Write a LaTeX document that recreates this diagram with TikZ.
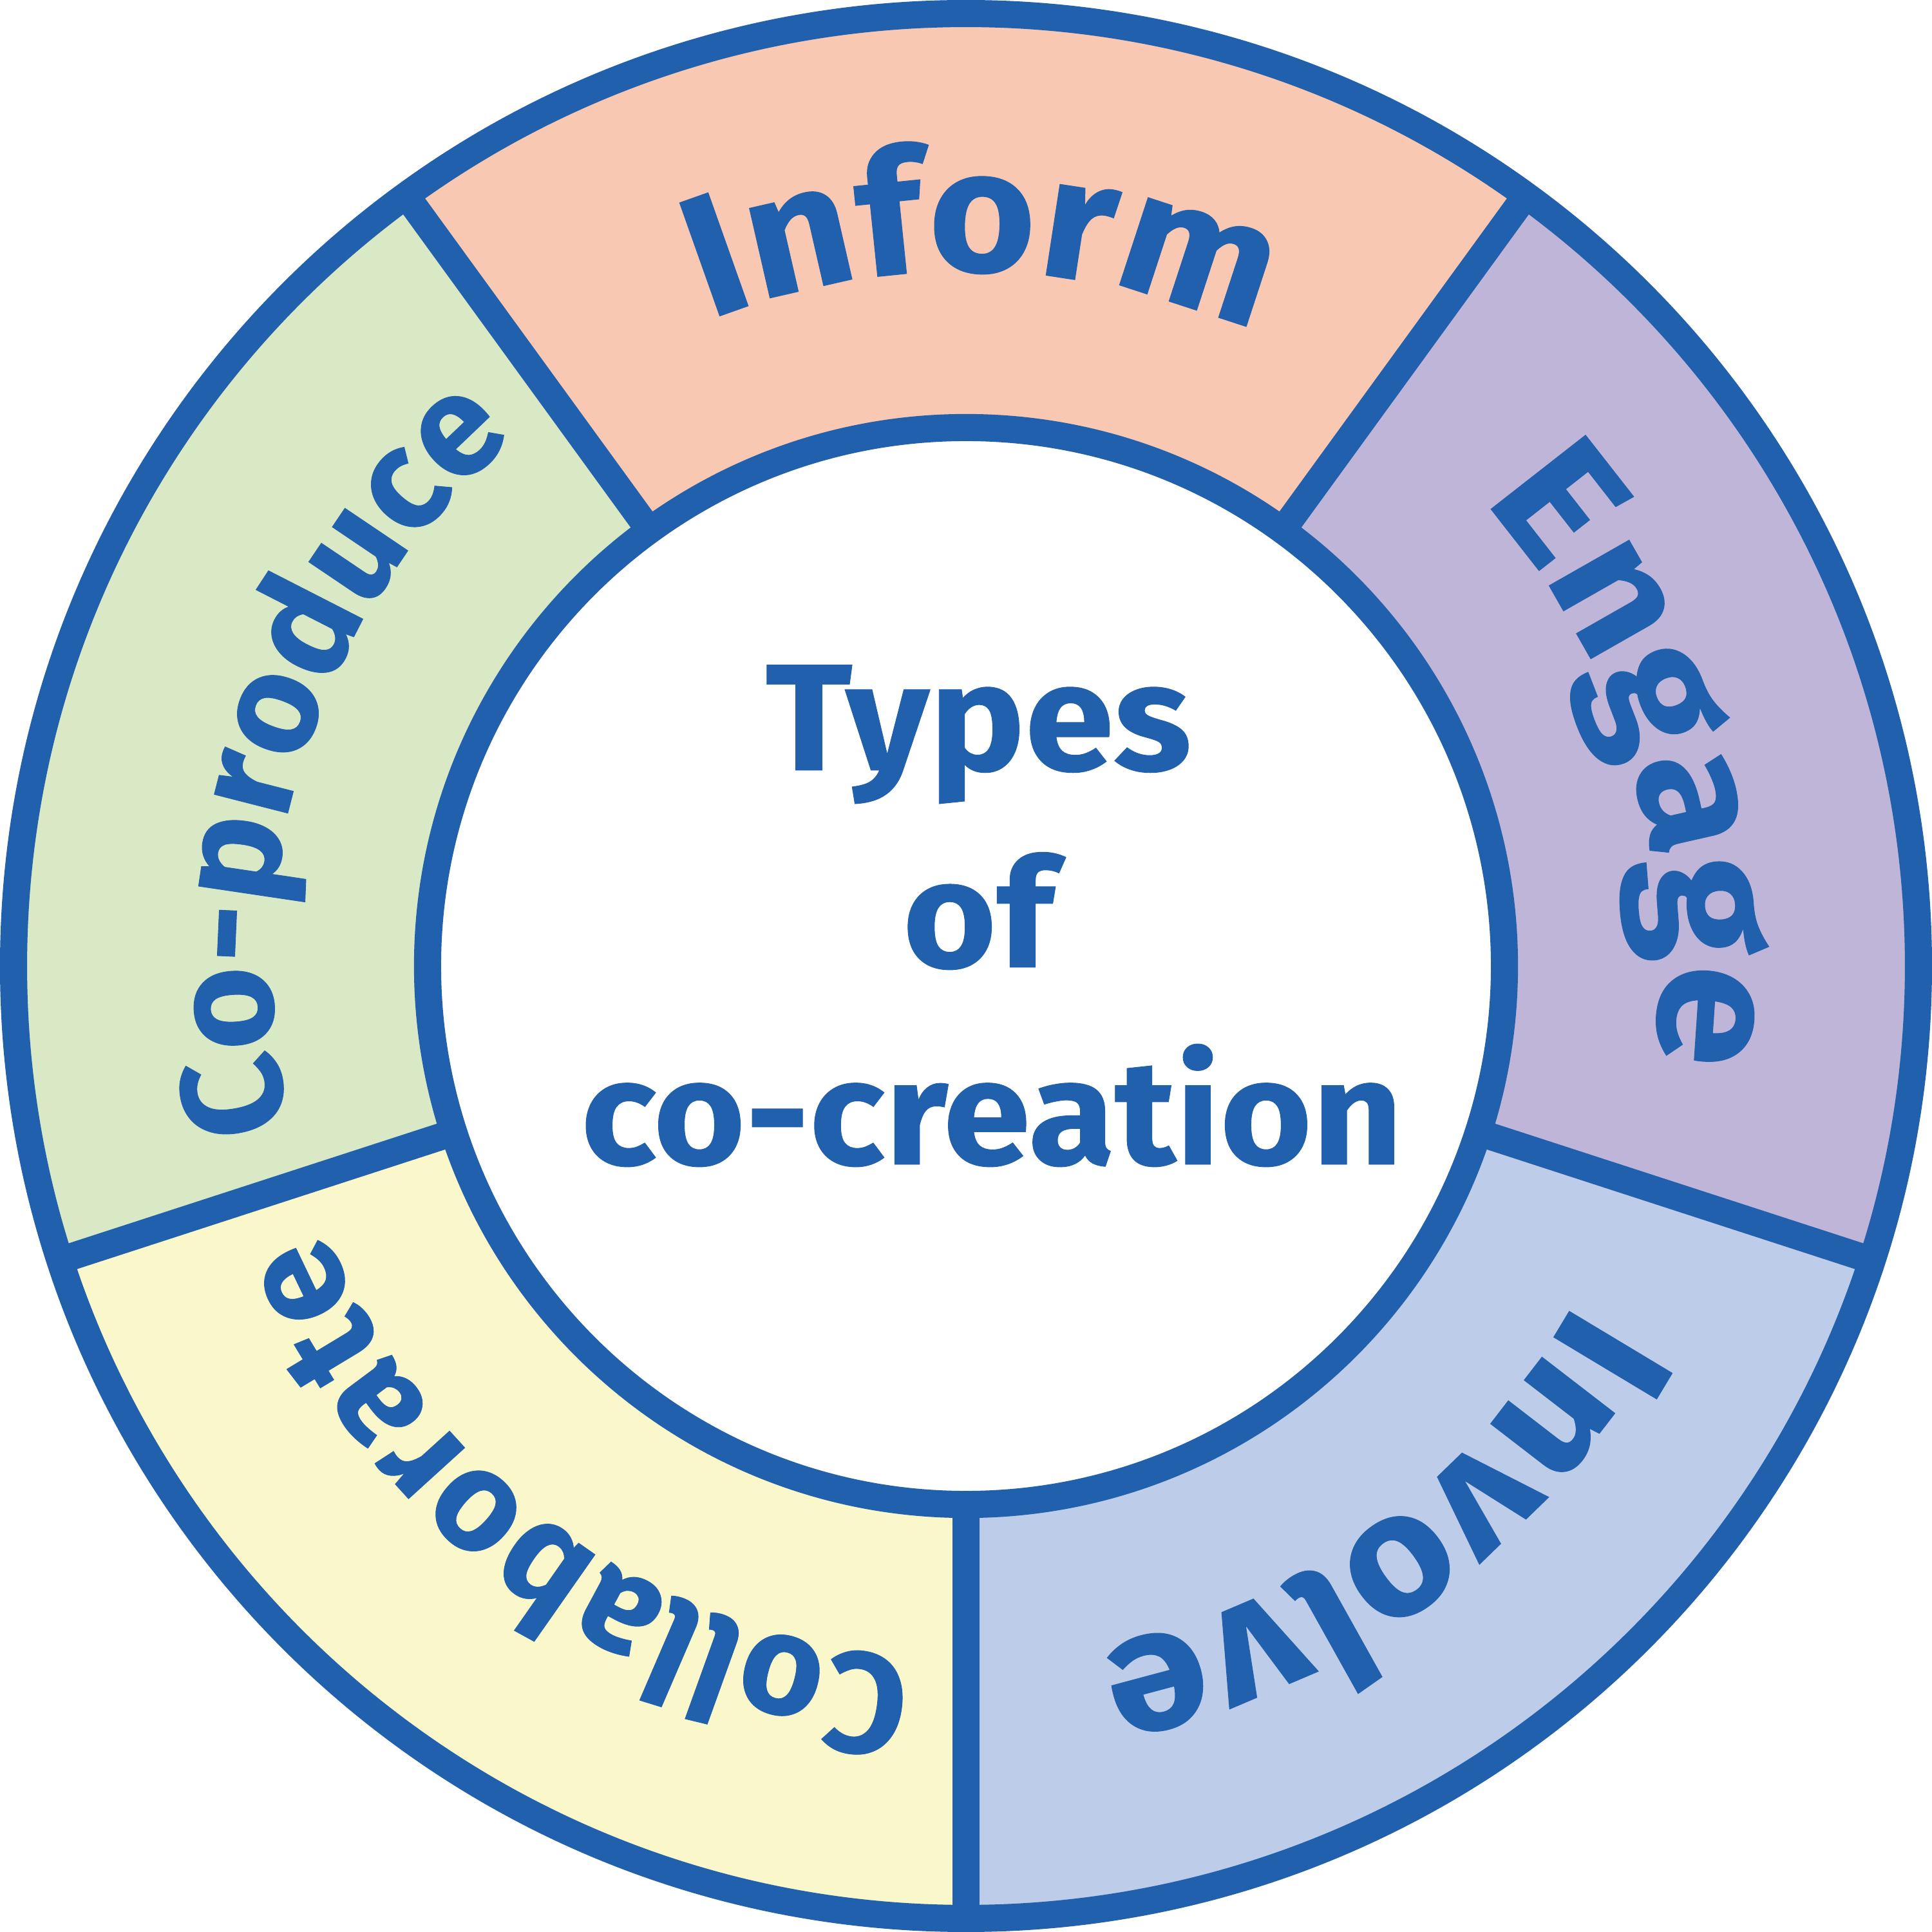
\documentclass[tikz,border=0pt]{standalone}
\usepackage{fontspec}
\newfontfamily\ringfont{Fira Sans}[FakeBold=0.4]
\newfontfamily\widefont{Fira Sans}[FakeStretch=1.06, FakeBold=0.4]
\usetikzlibrary{decorations.text}
\definecolor{lineblue}{RGB}{33,96,172}
\definecolor{peach}{RGB}{248,200,178}
\definecolor{lavender}{RGB}{191,181,216}
\definecolor{paleblue}{RGB}{189,204,233}
\definecolor{paleyellow}{RGB}{250,248,202}
\definecolor{palegreen}{RGB}{217,232,197}
\newcommand\bigword{\widefont\bfseries\fontsize{40}{40}\selectfont\color{lineblue}}
\newcommand\smallword{\ringfont\bfseries\fontsize{33}{33}\selectfont\color{lineblue}}
\newcommand\ringsector[3]{\fill[#3] (#1:\Ro) arc[start angle=#1, end angle=#2, radius=\Ro] -- (#2:\Ri) arc[start angle=#2, end angle=#1, radius=\Ri] -- cycle;}
\newcommand\ringlabel[3]{\path[decorate, decoration={text along path, text={|#3|#1}, text align=center}] (#2+36:\Rt) arc[start angle=#2+36, end angle=#2-36, radius=\Rt];}
\begin{document}
\begin{tikzpicture}[
  ringline/.style={draw=lineblue, line width=0.22cm},
  centertext/.style={anchor=base, text=lineblue, font=\widefont\bfseries\fontsize{35}{42}\selectfont, inner sep=0pt}
]
\useasboundingbox (-7.84,-7.84) rectangle (7.84,7.84);
\def\Ro{7.73}\def\Ri{4.37}\def\Rt{5.64}
% segments
\ringsector{126}{54}{peach}
\ringsector{54}{-18}{lavender}
\ringsector{342}{270}{paleblue}
\ringsector{270}{198}{paleyellow}
\ringsector{198}{126}{palegreen}
\fill[white] (0,0) circle[radius=\Ri];
% divider coordinates
\foreach \a/\n in {54/a,126/b,198/c,270/d,342/e}{
  \coordinate (in\n) at (\a:\Ri);
  \coordinate (out\n) at (\a:\Ro);
}
\foreach \n in {a,b,c,d,e}{\draw[ringline] (in\n) -- (out\n);}
\coordinate (centre) at (0,0);
\draw[ringline] (centre) circle[radius=\Ro];
\draw[ringline] (centre) circle[radius=\Ri];
% ring labels
\ringlabel{Inform}{88.6}{\bigword}
\ringlabel{Engage}{17}{\bigword}
\ringlabel{Involve}{306}{\bigword}
\ringlabel{Collaborate}{234}{\smallword}
\ringlabel{Co-produce}{162}{\smallword}
% centre text
\node[centertext] (types) at (0.10,1.59) {Types};
\node[centertext] (of) at (0.10,-0.01) {of};
\node[centertext, font=\widefont\bfseries\fontsize{34.3}{42}\selectfont] (cocreation) at (0.21,-1.61) {co-creation};
\end{tikzpicture}
\end{document}
